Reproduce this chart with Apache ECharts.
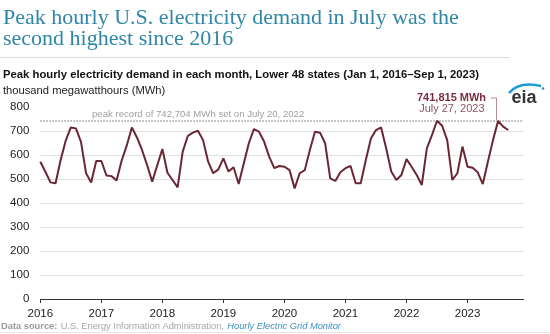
<!DOCTYPE html>
<html>
<head>
<meta charset="utf-8">
<script src="https://cdn.jsdelivr.net/npm/echarts@6/dist/echarts.min.js"></script>
<style>
  html, body { margin: 0; padding: 0; background: #fff; }
  #chart { width: 550px; height: 334px; }
</style>
</head>
<body>
<div id="chart"></div>
<script>
// Year tick labels (one per January)
const years = [2016, 2017, 2018, 2019, 2020, 2021, 2022, 2023];

// Peak hourly demand per month, thousand MWh, Jan 2016 – Sep 2023
const demand2016 = [572, 530, 486, 482, 579, 660, 715, 711, 655, 524, 485, 575];
const demand2017 = [575, 515, 512, 494, 577, 640, 715, 673, 621, 558, 489, 557];
const demand2018 = [625, 526, 496, 465, 614, 679, 693, 701, 662, 572, 524, 540];
const demand2019 = [586, 531, 549, 479, 565, 649, 708, 697, 656, 593, 545, 554];
const demand2020 = [551, 537, 461, 524, 537, 621, 697, 693, 649, 503, 492, 528];
const demand2021 = [545, 554, 482, 482, 579, 669, 704, 715, 628, 531, 496, 517];
const demand2022 = [583, 551, 517, 475, 628, 683, 742.704, 722, 662, 496, 524, 635];
const demand2023 = [551, 547, 528, 479, 572, 662, 741.815, 718, 704];

// Record and latest peak annotations
const recordValue = 742.704;
const recordText = 'peak record of 742,704 MWh set on July 20, 2022';
const peakValue = 741.815;
const peakTextTop = '741,815 MWh';
const peakTextBottom = 'July 27, 2023';

const demand = [].concat(demand2016, demand2017, demand2018, demand2019,
                         demand2020, demand2021, demand2022, demand2023);
// month index 0 = Jan 2016
const points = demand.map((v, i) => [i, v]);
const peakIndex = demand.indexOf(peakValue);
const yearTicks = years.map((y, i) => i * 12);

const sans = '"Liberation Sans", Arial, Helvetica, sans-serif';
const serif = '"Liberation Serif", "Times New Roman", serif';

const chart = echarts.init(document.getElementById('chart'), null, { renderer: 'canvas' });

const option = {
  animation: false,
  backgroundColor: '#ffffff',
  grid: { left: 40.3, right: 26.5, top: 107, bottom: 35, containLabel: false },
  xAxis: {
    type: 'value',
    min: 0,
    max: 95,
    interval: 12,
    axisLine: { show: true, lineStyle: { color: '#333333', width: 1 } },
    axisTick: { show: true, length: 4, customValues: yearTicks, lineStyle: { color: '#333333' } },
    axisLabel: {
      customValues: yearTicks,
      margin: 9,
      color: '#222222',
      fontFamily: sans,
      fontSize: 11.5,
      formatter: v => String(years[Math.round(v / 12)])
    },
    splitLine: { show: false }
  },
  yAxis: {
    type: 'value',
    min: 0,
    max: 800,
    interval: 100,
    axisLine: { show: false },
    axisTick: { show: false },
    axisLabel: { color: '#222222', fontFamily: sans, fontSize: 11.5, margin: 11 },
    splitLine: {
      show: true,
      lineStyle: {
        color: ['#e2e2e2', '#e2e2e2', '#e2e2e2', '#e2e2e2', '#e2e2e2',
                '#e2e2e2', '#e2e2e2', '#e2e2e2', 'rgba(0,0,0,0)'],
        width: 1
      }
    }
  },
  series: [{
    type: 'line',
    data: points,
    showSymbol: false,
    symbol: 'none',
    lineStyle: { color: '#6b2634', width: 2 },
    z: 3,
    markLine: {
      silent: true,
      symbol: 'none',
      label: { show: false },
      lineStyle: { color: '#9a9a9a', type: [1.5, 1.5], width: 1.5 },
      data: [{ yAxis: recordValue }],
      z: 2
    }
  }]
};

chart.setOption(option);

// Annotations placed from the axis scales
const pk = chart.convertToPixel({ gridIndex: 0 }, [peakIndex, peakValue]);
const rec = chart.convertToPixel({ gridIndex: 0 }, [0, recordValue]);

chart.setOption({
  graphic: [
    // headline
    { type: 'text', left: 3, top: 7, style: { text: 'Peak hourly U.S. electricity demand in July was the',
      fill: '#2f86a6', font: '22px ' + serif } },
    { type: 'text', left: 3, top: 28, style: { text: 'second highest since 2016',
      fill: '#2f86a6', font: '22px ' + serif } },
    { type: 'line', shape: { x1: 0, y1: 57.5, x2: 510, y2: 57.5 },
      style: { stroke: '#dcdcdc', lineWidth: 1 } },
    // chart subtitle and units
    { type: 'text', x: 3, y: 75, style: {
      text: 'Peak hourly electricity demand in each month, Lower 48 states (Jan 1, 2016\u2013Sep 1, 2023)',
      fill: '#111111', font: 'bold 11.3px ' + sans, verticalAlign: 'middle' } },
    { type: 'text', x: 3, y: 90.5, style: { text: 'thousand megawatthours (MWh)',
      fill: '#222222', font: '11.2px ' + sans, verticalAlign: 'middle' } },
    // record line label
    { type: 'text', x: 92, y: rec[1] - 6.5, style: { text: recordText,
      fill: '#a0a0a0', font: '9.6px ' + sans, verticalAlign: 'middle' } },
    // latest peak callout
    { type: 'text', x: pk[0] - 12, y: pk[1] - 22.7, style: { text: peakTextTop,
      fill: '#7a2f40', font: 'bold 11px ' + sans, align: 'right', verticalAlign: 'middle' } },
    { type: 'text', x: pk[0] - 13.5, y: pk[1] - 12, style: { text: peakTextBottom,
      fill: '#8a5463', font: '11px ' + sans, align: 'right', verticalAlign: 'middle' } },
    { type: 'polyline', shape: { points: [[pk[0] - 7, pk[1] - 23], [pk[0] - 1.5, pk[1] - 23], [pk[0] - 1.5, pk[1] - 1]] },
      style: { stroke: '#a98a92', lineWidth: 1, fill: null } },
    // eia mark
    { type: 'bezierCurve', shape: { x1: 509, y1: 93, cpx1: 519, cpy1: 81, x2: 541, y2: 86 },
      style: { stroke: '#1a9ad6', lineWidth: 2.5, fill: null } },
    { type: 'circle', shape: { cx: 543, cy: 88.5, r: 1.3 }, style: { fill: '#1a9ad6' } },
    { type: 'text', x: 524, y: 98, style: { text: 'eia', fill: '#333333',
      font: 'bold 18px ' + sans, align: 'center', verticalAlign: 'middle' } },
    // source line
    { type: 'text', x: 1, y: 326, style: {
      text: '{b|Data source:} {n|U.S. Energy Information Administration,} {l|Hourly Electric Grid Monitor}',
      verticalAlign: 'middle',
      rich: {
        b: { font: 'bold 9.3px ' + sans, fill: '#9a9a9a' },
        n: { font: '9.3px ' + sans, fill: '#a6a6a6' },
        l: { font: 'italic 9.3px ' + sans, fill: '#3f8fc0' }
      } } },
    { type: 'line', shape: { x1: 0, y1: 332.5, x2: 550, y2: 332.5 },
      style: { stroke: '#e6e6e6', lineWidth: 1 } }
  ]
});
</script>
</body>
</html>
